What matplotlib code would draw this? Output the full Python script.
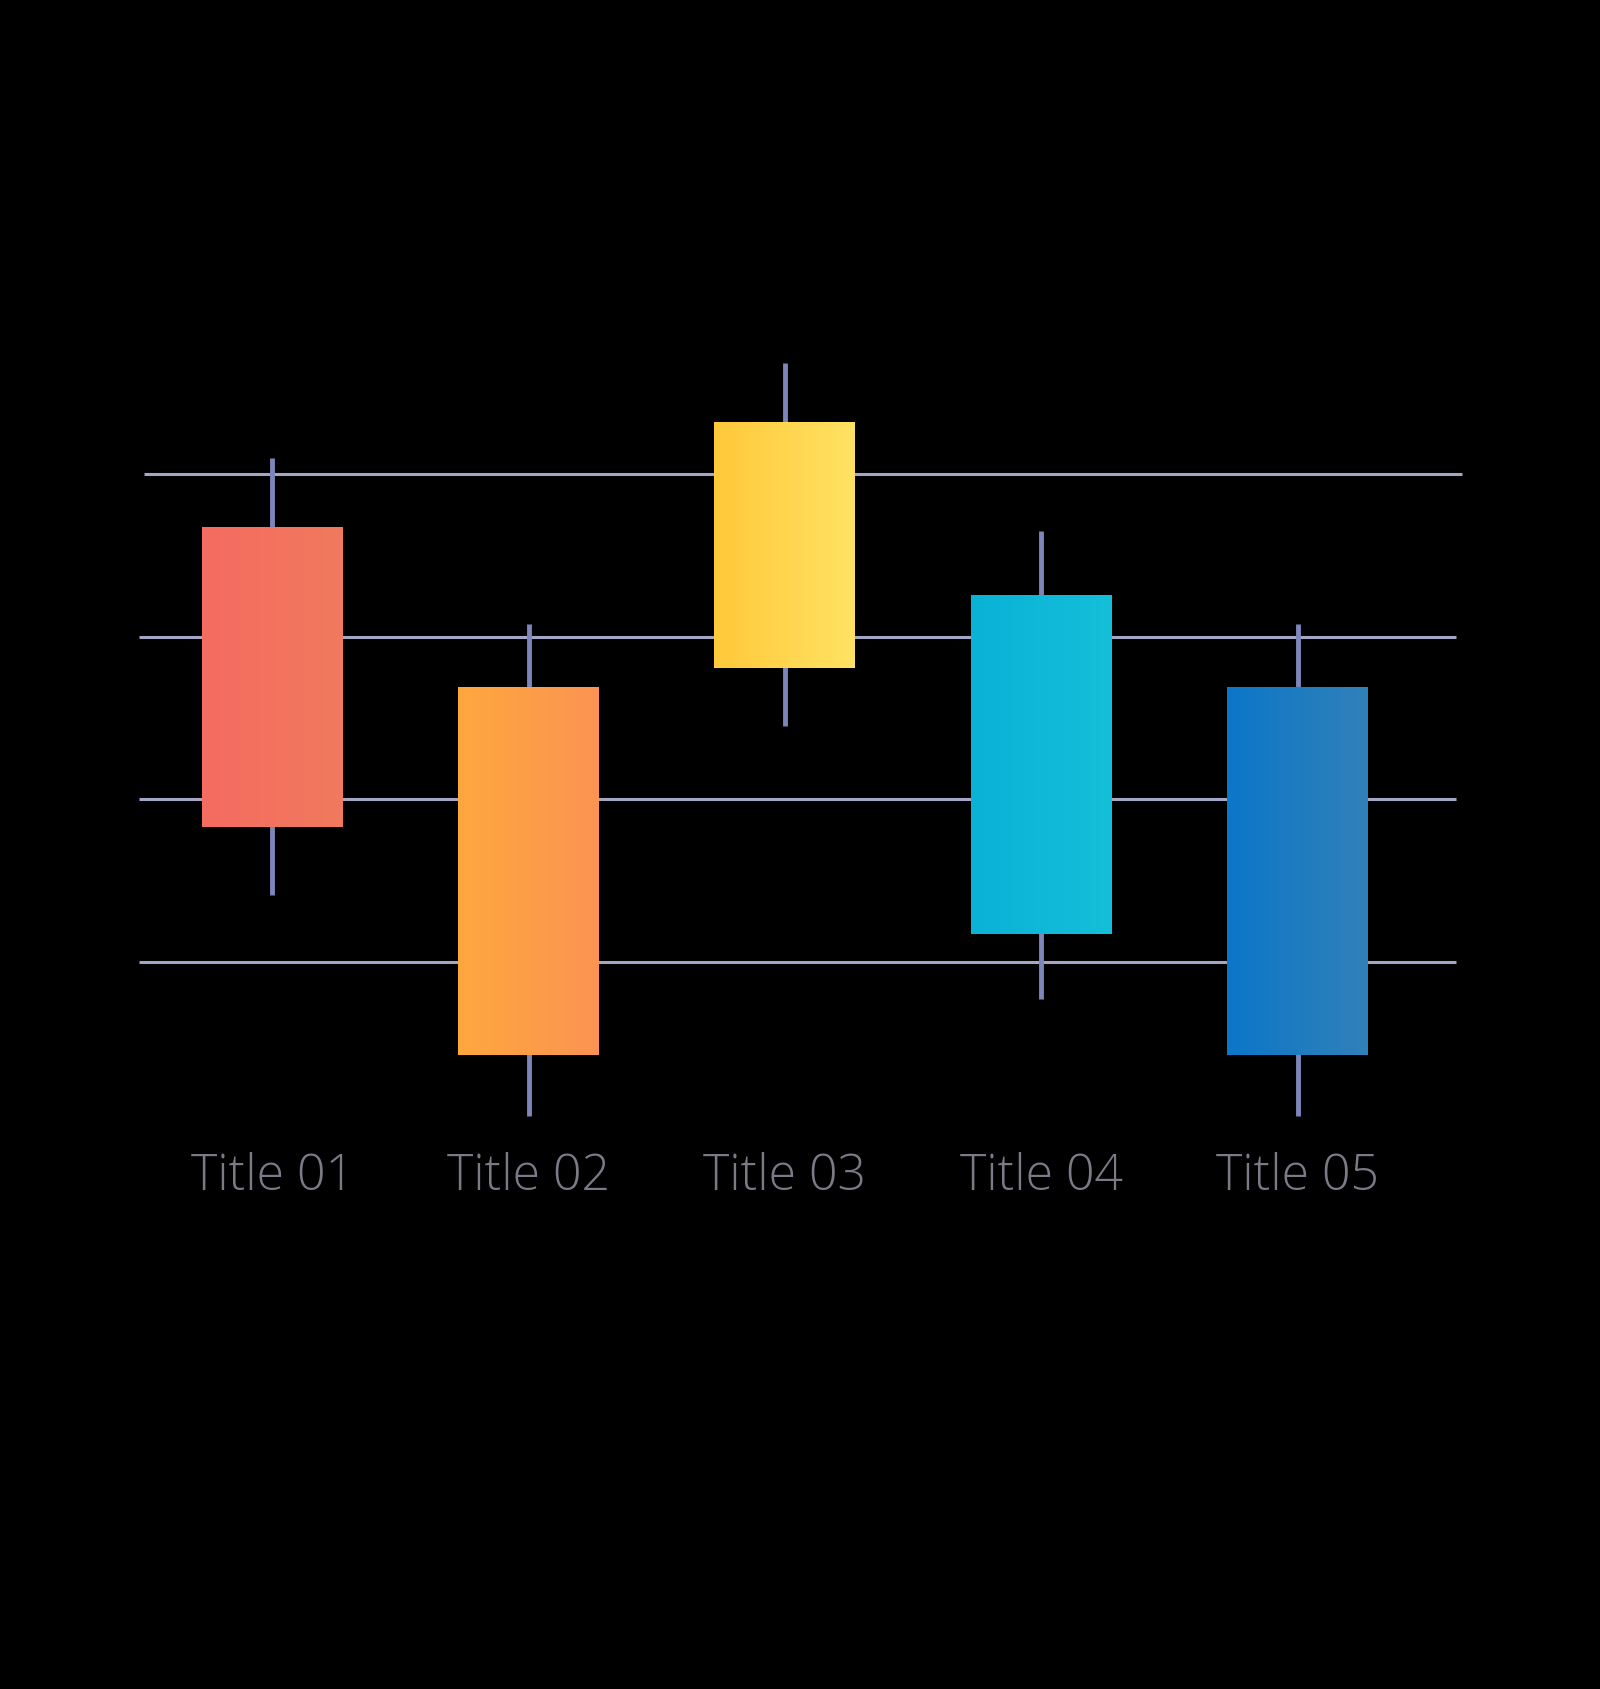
import numpy as np
import matplotlib.pyplot as plt
from matplotlib.colors import LinearSegmentedColormap

# candlestick data (gridlines at 20, 40, 60, 80)
titles = ['Title 01', 'Title 02', 'Title 03', 'Title 04', 'Title 05']
highs = [82, 61.6, 93.6, 73, 61.6]
body_top = [73.4, 53.8, 86.4, 65, 53.8]
body_bottom = [36.6, 8.6, 56.2, 23.4, 8.6]
lows = [28.2, 1, 49, 15.4, 1]
grid_levels = [20, 40, 60, 80]

# left -> right gradient colours of each body
grad_colors = [('#f56b61', '#f07a5d'),
               ('#ffa73e', '#fb9452'),
               ('#ffc93a', '#ffe263'),
               ('#0ab2d6', '#14bfd9'),
               ('#0c76c9', '#3081b8')]

fig = plt.figure(figsize=(16, 16.9), dpi=100, facecolor='black')
ax = fig.add_axes([0, 0, 1, 1])
ax.set_facecolor('black')

x = np.arange(len(titles))
w = 0.55

# gridlines
for i, g in enumerate(grid_levels):
    if i == len(grid_levels) - 1:
        ax.hlines(g, -0.50, 4.64, color='#a3a6c4', lw=2.2, zorder=1)
    else:
        ax.hlines(g, -0.52, 4.62, color='#a3a6c4', lw=2.2, zorder=1)

# wicks
ax.vlines(x, lows, highs, color='#7c86bb', lw=3.5, zorder=2)

# bodies with horizontal gradient
grad = np.linspace(0, 1, 256).reshape(1, -1)
for i in range(len(titles)):
    cmap = LinearSegmentedColormap.from_list('c%d' % i, grad_colors[i])
    ax.imshow(grad, cmap=cmap, aspect='auto', zorder=3,
              extent=[x[i] - w / 2, x[i] + w / 2, body_bottom[i], body_top[i]],
              interpolation='bicubic')
    ax.text(x[i], -6.3, titles[i], ha='center', va='center', color='#7b7b88',
            fontsize=36, family='Open Sans', fontweight='light', zorder=4)

ax.set_xlim(-1.0628, 5.180)
ax.set_ylim(-69.4, 138.4)
ax.axis('off')

fig.savefig('out.png', dpi=100, facecolor='black')
